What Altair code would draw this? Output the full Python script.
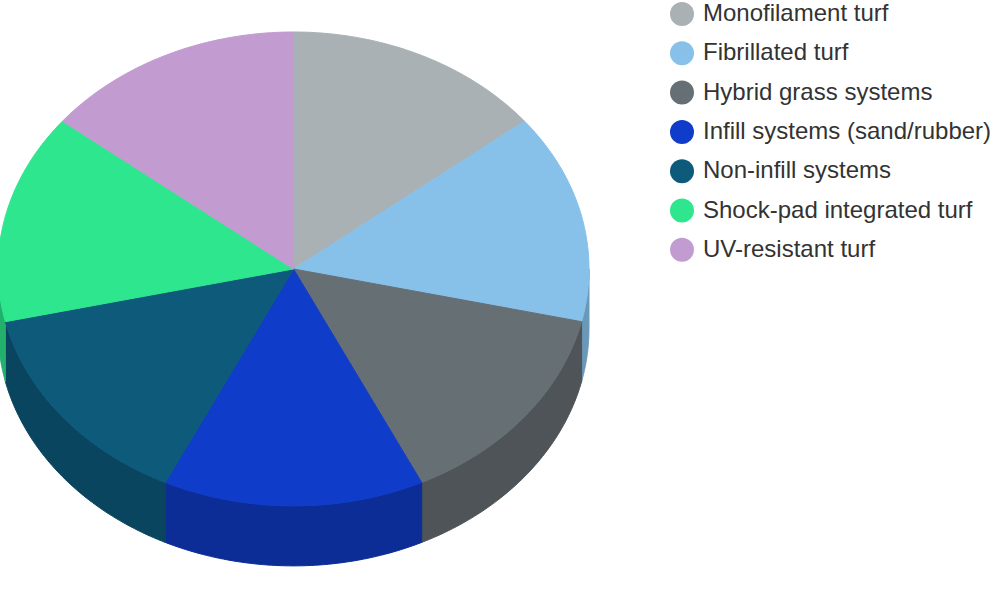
import math
import altair as alt
import pandas as pd

categories = ["Monofilament turf", "Fibrillated turf", "Hybrid grass systems",
              "Infill systems (sand/rubber)", "Non-infill systems",
              "Shock-pad integrated turf", "UV-resistant turf"]
shares = [14.3, 14.3, 14.3, 14.3, 14.3, 14.3, 14.3]
top_colors = ["#a9b1b4", "#87c1ea", "#656f74", "#0f3cc9", "#0d5a7b", "#2ee68e", "#c29bd1"]
side_colors = ["#81878a", "#6a98b8", "#4e5457", "#0c2c96", "#0a4560", "#23b06c", "#94779f"]

DEPTH = 0.253   # side wall thickness in pie-radius units (vertical)
STEPS = 60

total = sum(shares)
top_rows, side_rows = [], []
start = 0.0
for name, v, tc, sc in zip(categories, shares, top_colors, side_colors):
    a0 = start / total * 2 * math.pi
    a1 = (start + v) / total * 2 * math.pi
    start += v
    angs = [a0 + (a1 - a0) * k / STEPS for k in range(STEPS + 1)]
    pts = [(0.0, 0.0)] + [(math.sin(a), math.cos(a)) for a in angs] + [(0.0, 0.0)]
    for i, (px, py) in enumerate(pts):
        top_rows.append({"cat": name, "x": px, "y": py, "i": i, "edge": tc})
    s0, s1 = max(a0, math.pi / 2), min(a1, 3 * math.pi / 2)
    if s1 > s0:
        rim = [s0 + (s1 - s0) * k / STEPS for k in range(STEPS + 1)]
        spts = [(math.sin(a), math.cos(a)) for a in rim] + \
               [(math.sin(a), math.cos(a) - DEPTH) for a in reversed(rim)]
        spts.append(spts[0])
        for i, (px, py) in enumerate(spts):
            side_rows.append({"scat": name, "x": px, "y": py, "i": i, "col": sc})

top_df = pd.DataFrame(top_rows)
side_df = pd.DataFrame(side_rows)

xs = alt.Scale(domain=[-0.9932, 2.3909], nice=False, zero=False)
ys = alt.Scale(domain=[-1.397, 1.135], nice=False, zero=False)

sides = alt.Chart(side_df).mark_line(filled=True, strokeWidth=1, interpolate="linear").encode(
    x=alt.X("x:Q", scale=xs, axis=None),
    y=alt.Y("y:Q", scale=ys, axis=None),
    fill=alt.Fill("col:N", scale=None),
    stroke=alt.Stroke("col:N", scale=None),
    detail="scat:N",
    order=alt.Order("i:Q"),
)

tops = alt.Chart(top_df).mark_line(filled=True, strokeWidth=1, interpolate="linear").encode(
    x=alt.X("x:Q", scale=xs, axis=None),
    y=alt.Y("y:Q", scale=ys, axis=None),
    fill=alt.Fill("cat:N", scale=alt.Scale(domain=categories, range=top_colors),
                  legend=alt.Legend(title=None, orient="none", legendX=670, legendY=2,
                                    symbolType="circle", symbolSize=576,
                                    symbolStrokeWidth=0, symbolOpacity=1,
                                    labelFontSize=24, labelFont="Liberation Sans",
                                    labelColor="#333333", labelOffset=9,
                                    rowPadding=15.3, padding=0, labelLimit=400)),
    stroke=alt.Stroke("edge:N", scale=None),
    detail="cat:N",
    order=alt.Order("i:Q"),
)

chart = alt.layer(sides, tops).resolve_scale(fill="independent", stroke="independent").properties(
    width=1000, height=600, padding=0, autosize=alt.AutoSizeParams(type="none"),
    background="white"
).configure_view(stroke=None)

chart.save("out.html", embed_options={"renderer": "svg", "actions": False})
